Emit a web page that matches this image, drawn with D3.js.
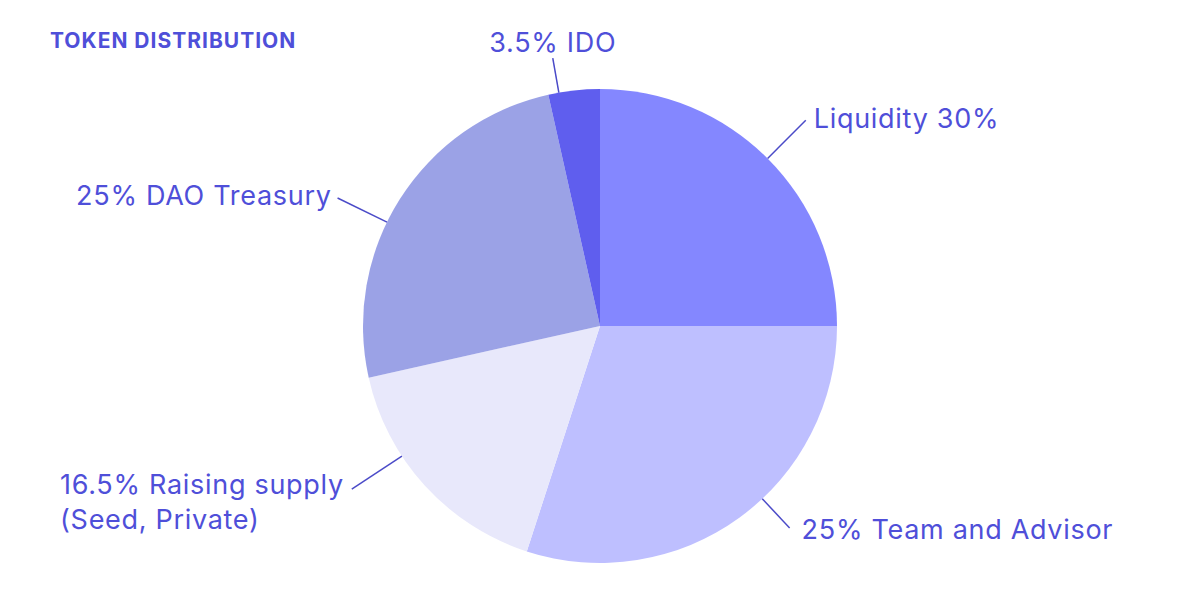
<!DOCTYPE html>
<html>
<head>
<meta charset="utf-8">
<script src="https://cdn.jsdelivr.net/npm/d3@7"></script>
<style>
  html, body { margin: 0; padding: 0; background: #fff; }
  svg { display: block; font-family: Inter, 'Open Sans', sans-serif; }
</style>
</head>
<body>
<svg id="chart"></svg>
<script>
// slice values as drawn (clockwise from 12 o'clock)
const sliceValues = [25, 30, 16.5, 25, 3.5];
const sliceLabels = [
  ['Liquidity 30%'],
  ['25% Team and Advisor'],
  ['16.5% Raising supply', '(Seed, Private)'],
  ['25% DAO Treasury'],
  ['3.5% IDO']
];
const sliceColors = ['#8487ff', '#bebfff', '#e8e8fb', '#9ba2e6', '#5f5eee'];
const title = 'TOKEN DISTRIBUTION';

// leader line layout: angle (deg), end radius, text anchor, text offset
const leaders = [
  {angle: 45, r1: 291, anchor: 'start', dx: 8, dy: 8},
  {angle: 136.8, r1: 277, anchor: 'start', dx: 12, dy: 11},
  {angle: 236.7, r1: 297, anchor: 'end', dx: -8, dy: 5},
  {angle: 296, r1: 292, anchor: 'end', dx: -6, dy: 7},
  {angle: 350, r1: 272, anchor: 'middle', dx: 0, dy: -6}
];

const width = 1200, height = 600;
const cx = 600, cy = 326, radius = 237;
const textColor = '#4f4fd9';

const svg = d3.select('#chart')
  .attr('width', width)
  .attr('height', height)
  .attr('viewBox', [0, 0, width, height]);

svg.append('text')
  .attr('x', 50)
  .attr('y', 48)
  .attr('fill', textColor)
  .attr('font-size', 21)
  .attr('font-weight', 700)
  .attr('letter-spacing', 1)
  .text(title);

const pie = d3.pie().sort(null).value(d => d);
const arc = d3.arc().innerRadius(0).outerRadius(radius);
const arcs = pie(sliceValues);

const g = svg.append('g').attr('transform', `translate(${cx},${cy})`);

g.selectAll('path')
  .data(arcs)
  .join('path')
    .attr('d', arc)
    .attr('fill', (d, i) => sliceColors[i]);

// leader lines
const rad = a => a * Math.PI / 180;
g.selectAll('line')
  .data(leaders)
  .join('line')
    .attr('x1', d => d3.pointRadial(rad(d.angle), radius)[0])
    .attr('y1', d => d3.pointRadial(rad(d.angle), radius)[1])
    .attr('x2', d => d3.pointRadial(rad(d.angle), d.r1)[0])
    .attr('y2', d => d3.pointRadial(rad(d.angle), d.r1)[1])
    .attr('stroke', '#4b4bc8')
    .attr('stroke-width', 1.5);

// labels
g.selectAll('text.label')
  .data(leaders)
  .join('text')
    .attr('class', 'label')
    .attr('fill', textColor)
    .attr('font-size', 27)
    .attr('letter-spacing', 0.7)
    .attr('text-anchor', d => d.anchor)
    .attr('transform', d => {
      const [x, y] = d3.pointRadial(rad(d.angle), d.r1);
      return `translate(${x + d.dx},${y + d.dy})`;
    })
    .each(function(d, i) {
      const lines = sliceLabels[i];
      d3.select(this).selectAll('tspan')
        .data(lines)
        .join('tspan')
          .attr('x', 0)
          .attr('y', (_, j) => j * 35)
          .text(t => t);
      if (d.anchor === 'end' && lines.length > 1) {
        // multi-line label is left aligned in the reference
        const w = this.getBBox().width;
        d3.select(this).attr('text-anchor', 'start')
          .attr('transform', () => {
            const [x, y] = d3.pointRadial(rad(d.angle), d.r1);
            return `translate(${x + d.dx - w},${y + d.dy})`;
          });
      }
    });
</script>
</body>
</html>
